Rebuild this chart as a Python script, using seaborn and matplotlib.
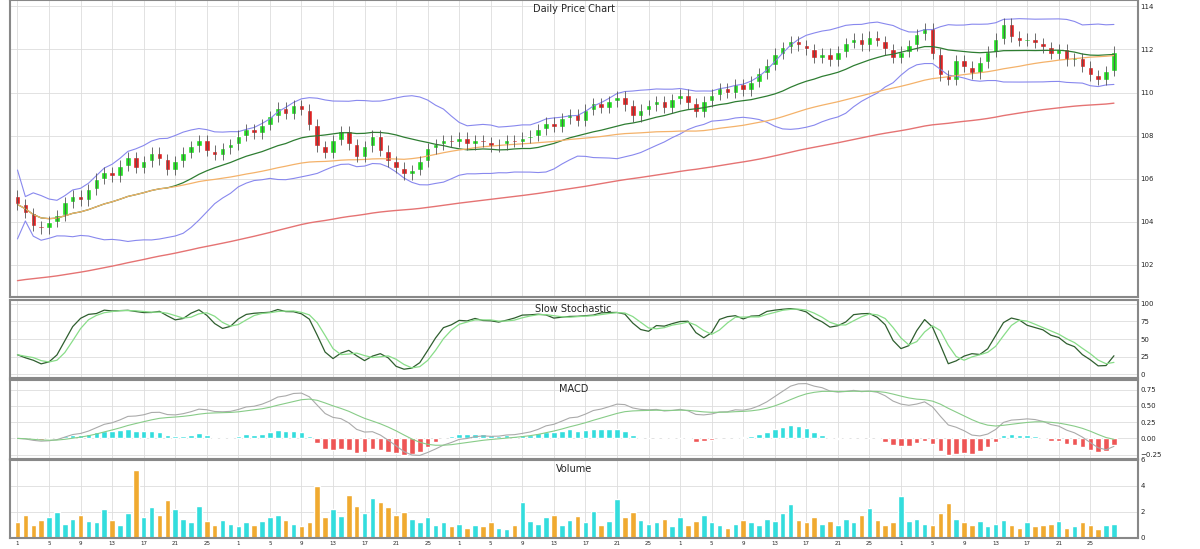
import numpy as np
import pandas as pd
import matplotlib
matplotlib.use("Agg")
from matplotlib import pyplot as plt
import seaborn as sns

closes = [104.8, 104.4, 103.8, 103.7,
          104.0, 104.3, 104.9, 105.2, 105.0, 105.5, 106.0, 106.3, 106.1,
          106.6, 107.0, 106.5, 106.8, 107.2, 106.9, 106.4,
          106.8, 107.2, 107.5, 107.8, 107.3, 107.1, 107.4,
          107.6, 108.0, 108.3, 108.1, 108.5, 108.9, 109.3, 109.0, 109.4, 109.2,
          108.5, 107.5, 107.2, 107.8, 108.2, 107.6, 107.0, 107.5, 108.0, 107.3, 106.8, 106.5, 106.2, 106.4,
          106.8, 107.4, 107.6, 107.8, 107.7, 107.9, 107.6, 107.8, 107.7, 107.5, 107.6, 107.8, 107.7, 107.9, 108.0,
          108.3, 108.6, 108.4, 108.8, 109.0, 108.7, 109.2, 109.5, 109.3, 109.6, 109.8,
          109.4, 108.9, 109.2, 109.4, 109.6, 109.3, 109.7, 109.9, 109.5, 109.1, 109.6,
          109.9, 110.2, 110.0, 110.4, 110.1, 110.5, 110.9, 111.3, 111.8, 112.1, 112.4, 112.2, 112.0,
          111.6, 111.8, 111.5, 111.9, 112.3, 112.5, 112.2, 112.6, 112.4, 112.0, 111.6, 111.9, 112.2, 112.7, 113.0,
          111.8, 110.8, 110.6, 111.5, 111.2, 110.9, 111.4, 111.9, 112.5,
          113.2, 112.6, 112.4, 112.5, 112.3, 112.1, 111.8, 112.0,
          111.5, 111.6, 111.2, 110.8, 110.6, 111.0, 111.9]
volumes = [1.2, 1.8, 1.0, 1.4, 1.6, 2.0, 1.1, 1.5, 1.8, 1.3, 1.2, 2.2, 1.4, 1.0,
           1.9, 5.2, 1.6, 2.4, 1.8, 2.9, 2.2, 1.5, 1.2, 2.5, 1.3, 1.0, 1.4, 1.1,
           0.9, 1.2, 1.0, 1.3, 1.6, 1.8, 1.4, 1.1, 0.9, 1.2, 4.0, 1.6, 2.2, 1.7,
           3.3, 2.5, 1.9, 3.1, 2.8, 2.4, 1.8, 2.0, 1.5, 1.2, 1.6, 1.0, 1.2, 0.9,
           1.1, 0.8, 1.0, 0.9, 1.2, 0.8, 0.7, 1.0, 2.8, 1.3, 1.1, 1.6, 1.8, 1.0,
           1.4, 1.7, 1.2, 2.1, 1.0, 1.3, 3.0, 1.6, 2.0, 1.4, 1.1, 1.2, 1.5, 0.9,
           1.6, 1.0, 1.3, 1.8, 1.2, 1.0, 0.8, 1.1, 1.4, 1.2, 1.0, 1.5, 1.3, 1.9,
           2.6, 1.4, 1.2, 1.6, 1.1, 1.3, 1.0, 1.5, 1.2, 1.8, 2.3, 1.4, 1.0, 1.2,
           3.2, 1.3, 1.5, 1.1, 1.0, 1.9, 2.7, 1.5, 1.2, 1.0, 1.3, 0.9, 1.1, 1.4,
           1.0, 0.8, 1.2, 0.9, 1.0, 1.1, 1.3, 0.8, 0.9, 1.2, 1.0, 0.7, 1.0, 1.1]

sns.set_theme(style="whitegrid")
plt.rcParams['font.family'] = ['DejaVu Sans']

n = min(len(closes), len(volumes))
df = pd.DataFrame({"close": closes[:n], "volume": volumes[:n]})
df["open"] = df["close"].shift(1).fillna(df["close"].iloc[0] + 0.4)
df["high"] = df[["open", "close"]].max(axis=1) + 0.25
df["low"] = df[["open", "close"]].min(axis=1) - 0.25
df["up"] = df["close"] >= df["open"]
c = df["close"]
ma20 = c.rolling(20, min_periods=1).mean()
sd20 = c.rolling(20, min_periods=2).std().fillna(0.8)
ma50 = c.rolling(50, min_periods=1).mean()
ma_long = pd.Series([101.2] + list(c)).ewm(span=120, adjust=False).mean()[1:].reset_index(drop=True)
ll = df["low"].rolling(14, min_periods=1).min()
hh = df["high"].rolling(14, min_periods=1).max()
k = (100 * (c - ll) / (hh - ll)).rolling(3, min_periods=1).mean()
dline = k.rolling(3, min_periods=1).mean()
macd = c.ewm(span=12).mean() - c.ewm(span=26).mean()
sig = macd.ewm(span=9).mean()
hist = macd - sig
x = np.arange(n)

fig = plt.figure(figsize=(12, 5.49), dpi=100)
L, W = 0.008, 0.94
ax1 = fig.add_axes([L, 1 - 297 / 549, W, 297 / 549])
ax2 = fig.add_axes([L, 1 - 378 / 549, W, 78 / 549], sharex=ax1)
ax3 = fig.add_axes([L, 1 - 459 / 549, W, 79 / 549], sharex=ax1)
ax4 = fig.add_axes([L, 1 - 538 / 549, W, 78 / 549], sharex=ax1)

# price panel
ax1.plot(x, ma20 + 2 * sd20, color="#8888ee", lw=0.8)
ax1.plot(x, ma20 - 2 * sd20, color="#8888ee", lw=0.8)
ax1.plot(x, ma20, color="#2e7d32", lw=0.9)
ax1.plot(x, ma50, color="#f4b26a", lw=0.9)
ax1.plot(x, ma_long, color="#e57373", lw=1.0)
cols = np.where(df["up"], "#22dd22", "#dd2222")
ax1.vlines(x, df["low"], df["high"], colors="#555555", lw=0.6)
ax1.bar(x, (df["close"] - df["open"]).abs().clip(lower=0.05),
        bottom=df[["open", "close"]].min(axis=1), color=cols, width=0.7)
ax1.set_ylim(100.5, 114.3)
ax1.set_title("Daily Price Chart", fontsize=7, pad=-9, y=1)

ax2.plot(x, k, color="#2e5e2e", lw=0.9)
ax2.plot(x, dline, color="#88dd88", lw=0.9)
ax2.set_ylim(-5, 105)
ax2.set_title("Slow Stochastic", fontsize=7, pad=-9, y=1)

ax3.bar(x, hist, color=np.where(hist >= 0, "#33dddd", "#ee5555"), width=0.7)
ax3.plot(x, macd, color="#aaaaaa", lw=0.8)
ax3.plot(x, sig, color="#88cc88", lw=0.8)
ax3.set_title("MACD", fontsize=7, pad=-9, y=1)

ax4.bar(x, df["volume"], color=np.where(df["up"], "#33dddd", "#f0aa30"), width=0.7)
ax4.set_ylim(0, 6)
ax4.set_title("Volume", fontsize=7, pad=-9, y=1)

for ax in (ax1, ax2, ax3, ax4):
    ax.yaxis.tick_right()
    ax.tick_params(labelsize=5, length=0, pad=2)
    ax.set_xlim(-1, n + 2)
    for s in ax.spines.values():
        s.set_color("#888888")
        s.set_linewidth(1.5)
    ax.grid(color="#dddddd", lw=0.6)
    ax.set_xticks(np.arange(0, n, 4))
for ax in (ax1, ax2, ax3):
    ax.tick_params(labelbottom=False)
ax4.set_xticklabels([f"{i % 28 + 1}" for i in range(0, n, 4)], fontsize=4)

fig.savefig("out.png", dpi=100)
